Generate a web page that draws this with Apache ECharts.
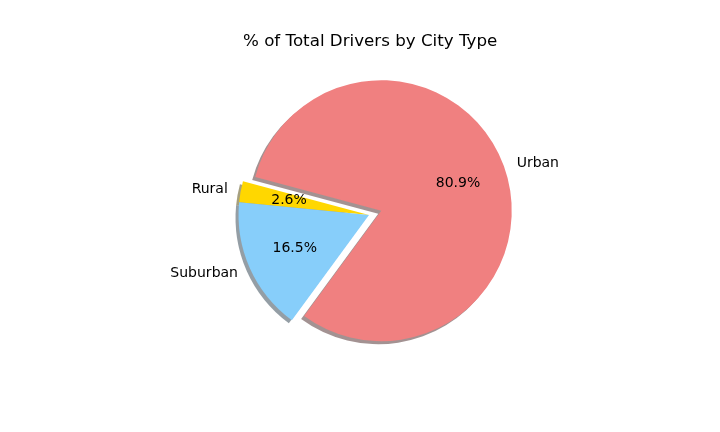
<!DOCTYPE html>
<html lang="en">
<head>
    <meta charset="UTF-8">
    <title>% of Total Drivers by City Type</title>
    <style>
        html, body { margin: 0; padding: 0; background: #fff; }
    </style>
</head>
<body>
<div id="main" style="width: 720px;height:432px;"></div>
<script src="https://cdn.jsdelivr.net/npm/echarts@6/dist/echarts.min.js"></script>
<script>
    var cityTypes = ['Rural', 'Suburban', 'Urban'];
    var driverPct = [2.6, 16.5, 80.9];
    var sliceColors = ['#FFD700', '#87CEFA', '#F08080'];
    var shadowColors = ['rgba(77,65,0,0.5)', 'rgba(41,62,75,0.5)', 'rgba(72,38,38,0.5)'];
    var exploded = [false, false, true];

    var myChart = echarts.init(document.getElementById('main'));

    var center = [369, 215];
    var radius = 130.5;
    var font = 'DejaVu Sans';

    function buildData(withShadow) {
        return cityTypes.map(function (name, i) {
            return {
                name: name,
                value: driverPct[i],
                selected: exploded[i],
                itemStyle: withShadow ? {
                    color: sliceColors[i],
                    shadowColor: shadowColors[i],
                    shadowBlur: 0,
                    shadowOffsetX: -3,
                    shadowOffsetY: 3
                } : { color: 'rgba(0,0,0,0)' }
            };
        });
    }

    option = {
        animation: false,
        title: {
            text: '% of Total Drivers by City Type',
            left: 238,
            top: 28,
            textStyle: {
                fontFamily: font,
                fontSize: 16.7,
                fontWeight: 'normal',
                color: '#000'
            }
        },
        series: [
            {
                // wedges + outer labels
                type: 'pie',
                center: center,
                radius: [0, radius],
                startAngle: 165,
                clockwise: false,
                silent: true,
                selectedMode: 'multiple',
                selectedOffset: 13,
                avoidLabelOverlap: false,
                percentPrecision: 1,
                label: {
                    show: true,
                    position: 'outside',
                    formatter: '{b}',
                    fontFamily: font,
                    fontSize: 14,
                    color: '#000',
                    distanceToLabelLine: 0
                },
                labelLine: { show: false, length: 13, length2: 0 },
                emphasis: { disabled: true },
                data: buildData(true)
            },
            {
                // invisible copy just for the percentage labels at 0.6 r
                type: 'pie',
                center: center,
                radius: [0, radius * 1.2],
                startAngle: 165,
                clockwise: false,
                silent: true,
                selectedMode: 'multiple',
                selectedOffset: 13,
                avoidLabelOverlap: false,
                percentPrecision: 1,
                label: {
                    show: true,
                    position: 'inside',
                    formatter: '{d}%',
                    fontFamily: font,
                    fontSize: 14,
                    color: '#000'
                },
                labelLine: { show: false },
                emphasis: { disabled: true },
                data: buildData(false)
            }
        ]
    };

    myChart.setOption(option);
</script>
</body>
</html>
